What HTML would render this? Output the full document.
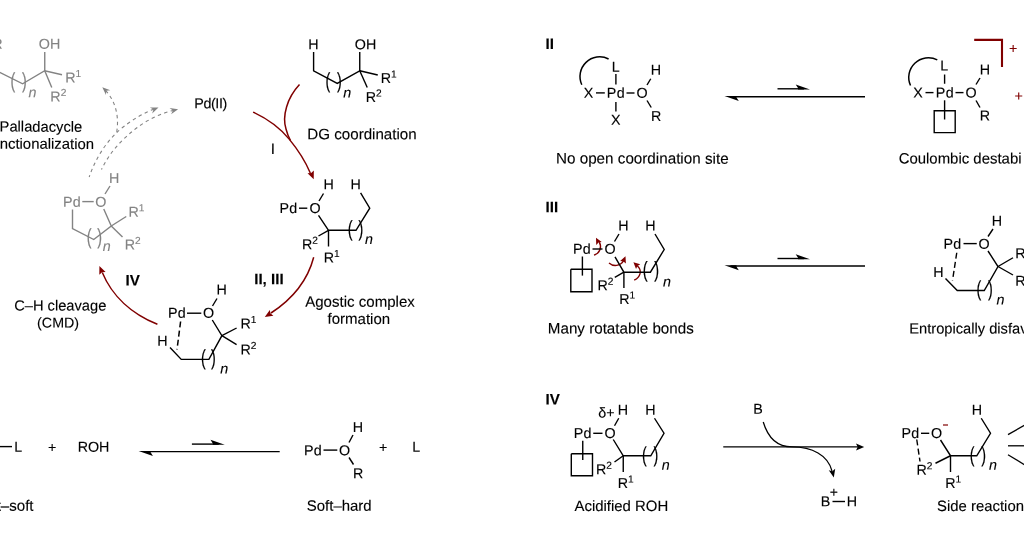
<!DOCTYPE html>
<html><head><meta charset="utf-8"><title>Figure</title>
<style>
html,body{margin:0;padding:0;background:#fff;}
body{width:1024px;height:536px;overflow:hidden;}
svg{display:block;will-change:transform;}
</style></head><body>
<svg width="1024" height="536" viewBox="0 0 1024 536">
<rect x="0" y="0" width="1024" height="536" fill="#ffffff"/>
<g fill="none" stroke="#000000" stroke-width="1.4" stroke-linecap="butt" stroke-linejoin="miter">
<path d="M44.75 52.00 L44.75 70.75" stroke="#838383"/>
<path d="M-10.00 67.50 L22.60 83.80 L44.75 70.75 L62.00 74.80" stroke="#838383"/>
<path d="M44.75 70.75 L51.75 87.50" stroke="#838383"/>
<path d="M154 109 C138 115.5 124 125.5 116.5 132.8 C104 145 95 160 89.2 177" stroke="#838383" stroke-width="1.1" stroke-dasharray="3.4 3.4"/>
<path d="M105.6 90.6 C116.5 102 119.3 119 116.5 132.8" stroke="#838383" stroke-width="1.1" stroke-dasharray="3.4 3.4"/>
<path d="M174 110.2 C156 114.5 140 124 128.2 135 C117 144.5 108 156 101.5 169.5" stroke="#838383" stroke-width="1.1" stroke-dasharray="3.4 3.4"/>
<path d="M158.50 107.60 L152.16 113.43 L153.49 109.50 L149.89 107.45 Z" fill="#838383" stroke="none"/>
<path d="M178.10 109.20 L171.11 114.24 L172.90 110.50 L169.56 108.04 Z" fill="#838383" stroke="none"/>
<path d="M102.30 87.20 L110.33 90.31 L106.22 90.85 L105.97 94.99 Z" fill="#838383" stroke="none"/>
<path d="M313.60 52.00 L313.60 70.75 L337.25 83.40 L359.75 70.75 L359.75 52.00"/>
<path d="M359.75 70.75 L377.75 75.00"/>
<path d="M359.75 70.75 L367.25 87.50"/>
<path d="M253.1 112.1 C268 119 281 129 289.4 139.4 C299 151 306 163 310.3 173" stroke="#800000" stroke-width="1.5"/>
<path d="M299.5 84.6 C287 98 282 116 286 129 C287 133 288.5 137 290.5 140.5" stroke="#800000" stroke-width="1.5"/>
<path d="M313.70 179.30 L307.54 173.17 L311.14 173.00 L313.84 170.61 Z" fill="#800000" stroke="none"/>
<path d="M313.7 257.2 C308 279 294 298 271 313" stroke="#800000" stroke-width="1.5"/>
<path d="M264.80 317.00 L269.79 309.88 L270.57 313.40 L273.39 315.65 Z" fill="#800000" stroke="none"/>
<path d="M157.4 324.3 C132 314 112 296 102.3 272.5" stroke="#800000" stroke-width="1.5"/>
<path d="M99.40 266.00 L105.60 272.10 L102.00 272.28 L99.31 274.69 Z" fill="#800000" stroke="none"/>
<path d="M299.00 208.20 L307.30 208.20"/>
<path d="M319.00 201.00 L323.50 193.50"/>
<path d="M318.50 215.40 L328.50 230.30 L356.00 230.30 L369.75 208.20 L360.60 192.80"/>
<path d="M328.50 230.30 L318.50 236.00"/>
<path d="M328.50 230.30 L328.50 246.50"/>
<path d="M187.00 313.20 L201.30 313.20"/>
<path d="M212.50 306.00 L217.00 298.50"/>
<path d="M212.30 320.00 L221.90 335.70 L208.90 359.40 L181.25 359.40 L170.00 347.50"/>
<path d="M221.90 335.70 L236.60 328.00"/>
<path d="M221.90 335.70 L236.60 344.60"/>
<path d="M180.60 321.50 L177.00 349.50" stroke-width="1.5" stroke-dasharray="6 3.2"/>
<path d="M82.30 201.60 L93.70 201.60" stroke="#838383"/>
<path d="M105.00 194.00 L110.00 186.00" stroke="#838383"/>
<path d="M103.75 209.00 L111.25 226.00 L93.75 239.50 L72.50 228.50 L72.50 209.50" stroke="#838383"/>
<path d="M111.25 226.00 L126.25 216.50" stroke="#838383"/>
<path d="M111.25 226.00 L122.50 237.00" stroke="#838383"/>
<path d="M-5.00 446.60 L12.00 446.60"/>
<path d="M144.60 451.60 L279.70 451.60" stroke-width="1.4"/>
<path d="M138.60 450.90 L152.90 455.90 L150.60 452.30 L150.60 450.90 Z" fill="#000000" stroke="none"/>
<path d="M191.90 444.10 L218.80 444.10" stroke-width="1.4"/>
<path d="M224.80 444.80 L210.50 439.80 L212.80 443.40 L212.80 444.80 Z" fill="#000000" stroke="none"/>
<path d="M323.50 450.10 L337.30 450.10"/>
<path d="M349.00 442.50 L353.00 435.00"/>
<path d="M349.00 457.50 L353.50 464.50"/>
<path d="M581.8 84.8 A19.7 19.7 0 0 1 608.6 59" stroke-width="1.5"/>
<path d="M615.90 74.10 L615.90 84.60"/>
<path d="M596.00 92.90 L604.80 92.90"/>
<path d="M626.50 93.00 L634.50 93.00"/>
<path d="M647.00 85.00 L650.75 78.75"/>
<path d="M647.00 100.50 L651.25 107.50"/>
<path d="M615.90 102.00 L615.90 111.60"/>
<path d="M730.50 96.80 L865.00 96.80" stroke-width="1.4"/>
<path d="M724.50 96.10 L738.80 101.10 L736.50 97.50 L736.50 96.10 Z" fill="#000000" stroke="none"/>
<path d="M777.50 88.80 L804.00 88.80" stroke-width="1.4"/>
<path d="M810.00 89.50 L795.70 84.50 L798.00 88.10 L798.00 89.50 Z" fill="#000000" stroke="none"/>
<path d="M910.5 85.5 A19.7 19.7 0 0 1 937.3 59.8" stroke-width="1.5"/>
<path d="M944.60 74.50 L944.60 83.75"/>
<path d="M925.50 92.60 L933.50 92.60"/>
<path d="M955.50 92.60 L963.50 92.60"/>
<path d="M976.00 84.50 L980.00 78.00"/>
<path d="M976.00 100.50 L980.00 107.50"/>
<path d="M944.60 100.30 L944.60 119.50"/>
<path d="M934.2 110.7 H955.2 V132.6 H934.2 Z" stroke-width="1.4"/>
<path d="M974.20 39.90 L1002.00 39.90 L1002.00 67.00" stroke="#800000" stroke-width="2.1"/>
<path d="M594 255.1 C599.5 253.5 602.3 247.5 599.3 242.2" stroke="#800000" stroke-width="1.35"/>
<path d="M596.00 237.70 L601.74 242.05 L598.54 242.61 L596.23 244.90 Z" fill="#800000" stroke="none"/>
<path d="M609 263 C613.5 267 620 266.2 623.5 260.8" stroke="#800000" stroke-width="1.35"/>
<path d="M625.50 256.30 L625.88 263.49 L623.39 261.41 L620.15 261.12 Z" fill="#800000" stroke="none"/>
<path d="M634.2 280.2 C640.5 277 642.5 270.5 637.3 265.8" stroke="#800000" stroke-width="1.35"/>
<path d="M633.40 262.20 L640.27 264.36 L637.44 265.97 L636.04 268.90 Z" fill="#800000" stroke="none"/>
<path d="M592.50 249.00 L602.50 249.00"/>
<path d="M614.50 241.50 L619.00 234.00"/>
<path d="M582.40 256.50 L582.40 275.60"/>
<path d="M570.80 269.30 L592.00 269.30 L592.00 291.70 L570.80 291.70 L570.80 269.30"/>
<path d="M615.00 256.80 L623.90 272.20 L650.40 272.20 L664.20 249.50 L655.00 234.00"/>
<path d="M623.90 272.20 L614.80 277.40"/>
<path d="M623.90 272.20 L623.90 288.00"/>
<path d="M730.50 266.00 L865.00 266.00" stroke-width="1.4"/>
<path d="M724.50 265.30 L738.80 270.30 L736.50 266.70 L736.50 265.30 Z" fill="#000000" stroke="none"/>
<path d="M777.50 258.50 L804.00 258.50" stroke-width="1.4"/>
<path d="M810.00 259.20 L795.70 254.20 L798.00 257.80 L798.00 259.20 Z" fill="#000000" stroke="none"/>
<path d="M963.50 243.60 L976.75 243.60"/>
<path d="M988.00 236.50 L993.00 229.00"/>
<path d="M988.00 251.00 L998.00 266.50 L984.25 290.50 L957.25 290.50 L945.50 278.50"/>
<path d="M998.00 266.50 L1013.00 257.75"/>
<path d="M998.00 266.50 L1013.00 275.00"/>
<path d="M956.75 252.75 L952.50 280.50" stroke-width="1.4" stroke-dasharray="6 3.2"/>
<path d="M593.25 433.30 L602.50 433.30"/>
<path d="M614.50 425.75 L618.75 418.25"/>
<path d="M613.25 439.50 L623.25 455.75 L650.75 455.75 L664.00 433.25 L654.50 418.25"/>
<path d="M623.25 455.75 L614.50 462.00"/>
<path d="M623.25 455.75 L623.25 472.00"/>
<path d="M582.75 440.75 L582.75 460.00"/>
<path d="M571.30 453.80 L592.50 453.80 L592.50 475.80 L571.30 475.80 L571.30 453.80"/>
<path d="M723.25 446.90 L859.00 446.90" stroke-width="1.25"/>
<path d="M864.20 447.00 L856.00 450.40 L857.64 447.00 L856.00 443.60 Z" fill="#000000" stroke="none"/>
<path d="M763.25 422 C768 438 778 446.9 792 446.9 C812 446.9 828 455 832 471" stroke-width="1.25"/>
<path d="M833.80 477.60 L828.77 470.33 L832.35 471.20 L835.20 468.87 Z" fill="#000000" stroke="none"/>
<path d="M832.50 501.50 L845.00 501.50"/>
<path d="M943.00 425.00 L948.00 425.00" stroke="#800000" stroke-width="1.2"/>
<path d="M921.00 433.30 L929.25 433.30"/>
<path d="M940.50 440.00 L950.50 455.75 L976.75 455.75 L990.50 433.25 L981.25 418.25"/>
<path d="M950.50 455.75 L935.50 463.25"/>
<path d="M950.50 455.75 L950.50 472.00"/>
<path d="M916.75 439.50 L920.00 461.50" stroke-width="1.4" stroke-dasharray="6 3.2"/>
<path d="M1008.00 434.60 L1026.00 424.30" stroke-width="1.3"/>
<path d="M1008.00 445.80 L1026.00 445.80" stroke-width="1.3"/>
<path d="M1008.00 454.80 L1026.00 465.60" stroke-width="1.3"/>
</g>
<g text-rendering="geometricPrecision" font-family="'Liberation Sans', sans-serif" font-size="15.2" fill="#000000" stroke="#000000" stroke-width="0.12" stroke-linejoin="round">
<text transform="translate(-7.87 48.70) rotate(0.05)" fill="#838383" stroke="#838383" font-size="14.3">R</text>
<text transform="translate(38.82 48.70) rotate(0.05)" fill="#838383" stroke="#838383" font-size="14.3">OH</text>
<text transform="translate(10.61 88.21) scale(0.66 1)" font-size="21.67" stroke-width="0.2" fill="#838383" stroke="#838383">(</text>
<text transform="translate(22.12 88.21) scale(0.66 1)" font-size="21.67" stroke-width="0.2" fill="#838383" stroke="#838383">)</text>
<text transform="translate(28.56 97.30) rotate(0.05)" font-style="italic" fill="#838383" stroke="#838383" font-size="14.3">n</text>
<text transform="translate(65.13 82.40) rotate(0.05)" fill="#838383" stroke="#838383" font-size="14.3">R<tspan font-size="10.2" dy="-5.5">1</tspan></text>
<text transform="translate(50.33 101.60) rotate(0.05)" fill="#838383" stroke="#838383" font-size="14.3">R<tspan font-size="10.2" dy="-5.5">2</tspan></text>
<text transform="translate(-0.41 131.60) rotate(0.05)" font-size="14.72">Palladacycle</text>
<text transform="translate(94.07 148.90) rotate(0.05)" text-anchor="end" font-size="14.9">functionalization</text>
<text transform="translate(194.23 108.30) rotate(0.05)" font-size="14.3" textLength="33.06" lengthAdjust="spacing">Pd(II)</text>
<text transform="translate(308.33 49.20) rotate(0.05)" font-size="14.3">H</text>
<text transform="translate(354.82 49.20) rotate(0.05)" font-size="14.3">OH</text>
<text transform="translate(325.61 88.21) scale(0.66 1)" font-size="21.67" stroke-width="0.2">(</text>
<text transform="translate(337.12 88.21) scale(0.66 1)" font-size="21.67" stroke-width="0.2">)</text>
<text transform="translate(343.36 97.60) rotate(0.05)" font-style="italic" font-size="14.3">n</text>
<text transform="translate(380.63 82.90) rotate(0.05)" font-size="14.3">R<tspan font-size="10.2" dy="-5.5">1</tspan></text>
<text transform="translate(365.63 102.10) rotate(0.05)" font-size="14.3">R<tspan font-size="10.2" dy="-5.5">2</tspan></text>
<text transform="translate(307.36 139.20) rotate(0.05)" font-size="15.13">DG coordination</text>
<text transform="translate(270.80 153.90) rotate(0.05)">I</text>
<text transform="translate(323.43 189.30) rotate(0.05)" font-size="14.3">H</text>
<text transform="translate(350.43 189.30) rotate(0.05)" font-size="14.3">H</text>
<text transform="translate(279.43 213.10) rotate(0.05)" font-size="14.3" textLength="17.79" lengthAdjust="spacing">Pd</text>
<text transform="translate(309.62 213.10) rotate(0.05)" font-size="14.3">O</text>
<text transform="translate(347.70 236.27) scale(0.66 1)" font-size="21.89" stroke-width="0.2">(</text>
<text transform="translate(358.39 236.27) scale(0.66 1)" font-size="21.89" stroke-width="0.2">)</text>
<text transform="translate(364.96 244.00) rotate(0.05)" font-style="italic" font-size="14.3">n</text>
<text transform="translate(301.93 249.30) rotate(0.05)" font-size="14.3">R<tspan font-size="10.2" dy="-5.5">2</tspan></text>
<text transform="translate(323.63 262.60) rotate(0.05)" font-size="14.3">R<tspan font-size="10.2" dy="-5.5">1</tspan></text>
<text transform="translate(254.18 284.20) rotate(0.05)" font-weight="bold">II, III</text>
<text transform="translate(305.22 306.70) rotate(0.05)" font-size="15.06">Agostic complex</text>
<text transform="translate(327.54 323.85) rotate(0.05)" font-size="15.03">formation</text>
<text transform="translate(125.58 285.50) rotate(0.05)" font-weight="bold">IV</text>
<text transform="translate(14.15 310.40) rotate(0.05)" font-size="14.68">C–H cleavage</text>
<text transform="translate(37.12 327.60) rotate(0.05)" font-size="14.26">(CMD)</text>
<text transform="translate(216.43 294.60) rotate(0.05)" font-size="14.3">H</text>
<text transform="translate(167.93 317.80) rotate(0.05)" font-size="14.3" textLength="17.79" lengthAdjust="spacing">Pd</text>
<text transform="translate(202.92 317.80) rotate(0.05)" font-size="14.3">O</text>
<text transform="translate(157.33 345.80) rotate(0.05)" font-size="14.3">H</text>
<text transform="translate(201.11 365.01) scale(0.66 1)" font-size="21.67" stroke-width="0.2">(</text>
<text transform="translate(211.12 365.01) scale(0.66 1)" font-size="21.67" stroke-width="0.2">)</text>
<text transform="translate(220.26 373.40) rotate(0.05)" font-style="italic" font-size="14.3">n</text>
<text transform="translate(240.43 328.40) rotate(0.05)" font-size="14.3">R<tspan font-size="10.2" dy="-5.5">1</tspan></text>
<text transform="translate(240.43 354.60) rotate(0.05)" font-size="14.3">R<tspan font-size="10.2" dy="-5.5">2</tspan></text>
<text transform="translate(108.93 183.10) rotate(0.05)" fill="#838383" stroke="#838383" font-size="14.3">H</text>
<text transform="translate(62.93 206.80) rotate(0.05)" fill="#838383" stroke="#838383" font-size="14.3" textLength="17.79" lengthAdjust="spacing">Pd</text>
<text transform="translate(95.32 206.80) rotate(0.05)" fill="#838383" stroke="#838383" font-size="14.3">O</text>
<text transform="translate(86.71 244.21) scale(0.66 1)" font-size="21.67" stroke-width="0.2" fill="#838383" stroke="#838383">(</text>
<text transform="translate(97.32 244.21) scale(0.66 1)" font-size="21.67" stroke-width="0.2" fill="#838383" stroke="#838383">)</text>
<text transform="translate(102.76 251.00) rotate(0.05)" font-style="italic" fill="#838383" stroke="#838383" font-size="14.3">n</text>
<text transform="translate(128.43 216.80) rotate(0.05)" fill="#838383" stroke="#838383" font-size="14.3">R<tspan font-size="10.2" dy="-5.5">1</tspan></text>
<text transform="translate(124.63 249.60) rotate(0.05)" fill="#838383" stroke="#838383" font-size="14.3">R<tspan font-size="10.2" dy="-5.5">2</tspan></text>
<text transform="translate(14.33 451.70) rotate(0.05)" font-size="14.3">L</text>
<text transform="translate(47.90 452.20) rotate(0.05)" font-size="14.3">+</text>
<text transform="translate(77.63 451.70) rotate(0.05)" font-size="14.3">ROH</text>
<text transform="translate(33.56 510.80) rotate(0.05)" text-anchor="end" font-size="15.1">Soft–soft</text>
<text transform="translate(352.83 431.90) rotate(0.05)" font-size="14.3">H</text>
<text transform="translate(303.93 455.20) rotate(0.05)" font-size="14.3" textLength="17.79" lengthAdjust="spacing">Pd</text>
<text transform="translate(338.92 455.20) rotate(0.05)" font-size="14.3">O</text>
<text transform="translate(352.93 478.20) rotate(0.05)" font-size="14.3">R</text>
<text transform="translate(378.90 452.20) rotate(0.05)" font-size="14.3">+</text>
<text transform="translate(412.33 451.70) rotate(0.05)" font-size="14.3">L</text>
<text transform="translate(306.82 510.80) rotate(0.05)" font-size="14.95">Soft–hard</text>
<text transform="translate(545.58 48.90) rotate(0.05)" font-weight="bold">II</text>
<text transform="translate(611.73 71.80) rotate(0.05)" font-size="14.3">L</text>
<text transform="translate(583.68 97.80) rotate(0.05)" font-size="14.3">X</text>
<text transform="translate(606.83 97.80) rotate(0.05)" font-size="14.3" textLength="17.79" lengthAdjust="spacing">Pd</text>
<text transform="translate(636.42 97.80) rotate(0.05)" font-size="14.3">O</text>
<text transform="translate(650.63 74.80) rotate(0.05)" font-size="14.3">H</text>
<text transform="translate(650.93 121.10) rotate(0.05)" font-size="14.3">R</text>
<text transform="translate(610.98 124.80) rotate(0.05)" font-size="14.3">X</text>
<text transform="translate(556.00 163.50) rotate(0.05)" font-size="15.22">No open coordination site</text>
<text transform="translate(940.33 70.40) rotate(0.05)" font-size="14.3">L</text>
<text transform="translate(913.18 97.40) rotate(0.05)" font-size="14.3">X</text>
<text transform="translate(935.83 97.40) rotate(0.05)" font-size="14.3" textLength="17.79" lengthAdjust="spacing">Pd</text>
<text transform="translate(965.42 97.40) rotate(0.05)" font-size="14.3">O</text>
<text transform="translate(979.83 74.40) rotate(0.05)" font-size="14.3">H</text>
<text transform="translate(979.83 120.60) rotate(0.05)" font-size="14.3">R</text>
<text transform="translate(1008.90 53.30) rotate(0.05)" fill="#800000" stroke="#800000" font-size="14.3">+</text>
<text transform="translate(1014.40 100.80) rotate(0.05)" fill="#800000" stroke="#800000" font-size="14.3">+</text>
<text transform="translate(898.64 163.50) rotate(0.05)" font-size="14.95">Coulombic destabi<tspan dx="3">lization</tspan></text>
<text transform="translate(545.58 212.30) rotate(0.05)" font-weight="bold">III</text>
<text transform="translate(618.33 230.60) rotate(0.05)" font-size="14.3">H</text>
<text transform="translate(645.13 230.60) rotate(0.05)" font-size="14.3">H</text>
<text transform="translate(572.93 253.80) rotate(0.05)" font-size="14.3" textLength="17.79" lengthAdjust="spacing">Pd</text>
<text transform="translate(604.42 253.80) rotate(0.05)" font-size="14.3">O</text>
<text transform="translate(642.80 277.25) scale(0.66 1)" font-size="22.00" stroke-width="0.2">(</text>
<text transform="translate(654.27 277.25) scale(0.66 1)" font-size="22.00" stroke-width="0.2">)</text>
<text transform="translate(662.96 286.60) rotate(0.05)" font-style="italic" font-size="14.3">n</text>
<text transform="translate(597.43 290.30) rotate(0.05)" font-size="14.3">R<tspan font-size="10.2" dy="-5.5">2</tspan></text>
<text transform="translate(619.13 304.10) rotate(0.05)" font-size="14.3">R<tspan font-size="10.2" dy="-5.5">1</tspan></text>
<text transform="translate(547.85 333.50) rotate(0.05)" font-size="15.18">Many rotatable bonds</text>
<text transform="translate(991.83 225.80) rotate(0.05)" font-size="14.3">H</text>
<text transform="translate(943.43 248.80) rotate(0.05)" font-size="14.3" textLength="17.79" lengthAdjust="spacing">Pd</text>
<text transform="translate(978.62 248.80) rotate(0.05)" font-size="14.3">O</text>
<text transform="translate(1015.13 258.30) rotate(0.05)" font-size="14.3">R<tspan font-size="10.2" dy="-5.5">1</tspan></text>
<text transform="translate(1015.13 285.80) rotate(0.05)" font-size="14.3">R<tspan font-size="10.2" dy="-5.5">2</tspan></text>
<text transform="translate(933.13 277.10) rotate(0.05)" font-size="14.3">H</text>
<text transform="translate(976.51 296.29) scale(0.66 1)" font-size="21.78" stroke-width="0.2">(</text>
<text transform="translate(988.00 296.29) scale(0.66 1)" font-size="21.78" stroke-width="0.2">)</text>
<text transform="translate(996.46 304.60) rotate(0.05)" font-style="italic" font-size="14.3">n</text>
<text transform="translate(909.19 333.50) rotate(0.05)" font-size="14.7">Entropically disfavoured</text>
<text transform="translate(545.58 404.50) rotate(0.05)" font-weight="bold">IV</text>
<text transform="translate(598.30 417.50) rotate(0.05)" font-size="14.3">δ+</text>
<text transform="translate(617.63 414.80) rotate(0.05)" font-size="14.3">H</text>
<text transform="translate(645.13 414.80) rotate(0.05)" font-size="14.3">H</text>
<text transform="translate(573.63 438.10) rotate(0.05)" font-size="14.3" textLength="17.79" lengthAdjust="spacing">Pd</text>
<text transform="translate(604.42 438.10) rotate(0.05)" font-size="14.3">O</text>
<text transform="translate(642.11 461.50) scale(0.66 1)" font-size="21.73" stroke-width="0.2">(</text>
<text transform="translate(653.61 461.50) scale(0.66 1)" font-size="21.73" stroke-width="0.2">)</text>
<text transform="translate(661.66 469.80) rotate(0.05)" font-style="italic" font-size="14.3">n</text>
<text transform="translate(595.93 474.30) rotate(0.05)" font-size="14.3">R<tspan font-size="10.2" dy="-5.5">2</tspan></text>
<text transform="translate(617.73 488.10) rotate(0.05)" font-size="14.3">R<tspan font-size="10.2" dy="-5.5">1</tspan></text>
<text transform="translate(574.47 510.90) rotate(0.05)" font-size="14.93">Acidified ROH</text>
<text transform="translate(753.33 413.80) rotate(0.05)" font-size="14.3">B</text>
<text transform="translate(820.63 506.30) rotate(0.05)" font-size="14.3">B</text>
<text transform="translate(829.72 496.90) rotate(0.05)" font-size="14">+</text>
<text transform="translate(846.83 506.30) rotate(0.05)" font-size="14.3">H</text>
<text transform="translate(971.63 414.80) rotate(0.05)" font-size="14.3">H</text>
<text transform="translate(901.43 438.10) rotate(0.05)" font-size="14.3" textLength="17.79" lengthAdjust="spacing">Pd</text>
<text transform="translate(930.92 438.10) rotate(0.05)" font-size="14.3">O</text>
<text transform="translate(916.43 474.80) rotate(0.05)" font-size="14.3">R<tspan font-size="10.2" dy="-5.5">2</tspan></text>
<text transform="translate(945.13 488.10) rotate(0.05)" font-size="14.3">R<tspan font-size="10.2" dy="-5.5">1</tspan></text>
<text transform="translate(969.71 461.50) scale(0.66 1)" font-size="21.73" stroke-width="0.2">(</text>
<text transform="translate(981.21 461.50) scale(0.66 1)" font-size="21.73" stroke-width="0.2">)</text>
<text transform="translate(989.06 469.80) rotate(0.05)" font-style="italic" font-size="14.3">n</text>
<text transform="translate(937.12 510.90) rotate(0.05)" font-size="14.88">Side reaction<tspan dx="2">s</tspan></text>
</g>
</svg>
</body></html>
